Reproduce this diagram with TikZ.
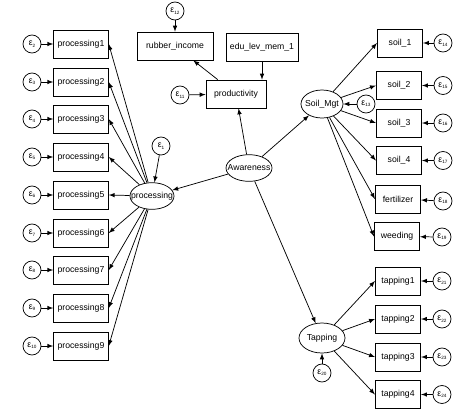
\documentclass[tikz,border=0pt]{standalone}
\usepackage{fontspec}
\setmainfont{Liberation Sans}
\usetikzlibrary{shapes.geometric}

\newcommand{\errlab}[1]{\textepsilon\raisebox{-1pt}{\fontsize{3.5}{4}\selectfont #1}}
\newcommand{\textepsilon}{ε}

\tikzset{
  obs/.style={draw, rectangle, minimum width=34pt, minimum height=21pt, inner xsep=3pt},
  lat/.style={draw, ellipse, inner sep=0pt},
  err/.style={draw, circle, minimum size=13.5pt, inner sep=0pt},
  path/.style={->, >=latex, line width=0.55pt}
}

\begin{document}
\begin{tikzpicture}[x=0.75pt, y=-0.75pt, font=\fontsize{6.5}{7.5}\selectfont, line width=0.55pt]
\useasboundingbox (0,0) rectangle (474,412);

% latent variables
\node[lat, minimum width=34.5pt, minimum height=20pt] (aware) at (249,168) {\makebox[0pt]{Awareness}};
\node[lat, minimum width=33pt, minimum height=20pt] (proc) at (152,196) {\makebox[0pt]{processing}};
\node[lat, minimum width=31.5pt, minimum height=21pt] (soil) at (322,104) {\makebox[0pt]{Soil\_Mgt}};
\node[lat, minimum width=34.5pt, minimum height=22.5pt] (tap) at (322,338) {\makebox[0pt]{Tapping}};

% top
\node[obs, minimum width=57pt] (rubber) at (175,46) {rubber\_income};
\node[obs, minimum width=53pt] (edu) at (262,47) {edu\_lev\_mem\_1};
\node[obs, minimum width=45pt] (prod) at (236,94) {productivity};
\node[err] (e12) at (175,11) {\errlab{12}};
\node[err] (e11) at (180,95) {\errlab{11}};
\node[err] (e1) at (161,146) {\errlab{1}};

% processing indicators
\node[obs] (p1) at (81,44) {processing1};
\node[obs] (p2) at (81,82) {processing2};
\node[obs] (p3) at (81,119) {processing3};
\node[obs] (p4) at (81,157) {processing4};
\node[obs] (p5) at (81,195) {processing5};
\node[obs] (p6) at (81,233) {processing6};
\node[obs] (p7) at (81,270) {processing7};
\node[obs] (p8) at (81,308) {processing8};
\node[obs] (p9) at (81,346) {processing9};
\node[err] (e2) at (32,44) {\errlab{2}};
\node[err] (e3) at (32,82) {\errlab{3}};
\node[err] (e4) at (32,119) {\errlab{4}};
\node[err] (e5) at (32,157) {\errlab{5}};
\node[err] (e6) at (32,195) {\errlab{6}};
\node[err] (e7) at (32,233) {\errlab{7}};
\node[err] (e8) at (32,270) {\errlab{8}};
\node[err] (e9) at (32,308) {\errlab{9}};
\node[err] (e10) at (32,346) {\errlab{10}};

% soil indicators
\node[obs] (s1) at (400,43) {soil\_1};
\node[obs] (s2) at (399,85.5) {soil\_2};
\node[obs] (s3) at (399,123) {soil\_3};
\node[obs] (s4) at (399,160.5) {soil\_4};
\node[obs] (fert) at (398,199) {fertilizer};
\node[obs] (weed) at (397,236.5) {weeding};
\node[err] (e13) at (366,104) {\errlab{13}};
\node[err] (e14) at (443,43) {\errlab{14}};
\node[err] (e15) at (443,85.5) {\errlab{15}};
\node[err] (e16) at (443,123) {\errlab{16}};
\node[err] (e17) at (443,160.5) {\errlab{17}};
\node[err] (e18) at (443,201) {\errlab{18}};
\node[err] (e19) at (442,237) {\errlab{19}};

% tapping indicators
\node[obs] (t1) at (398,281) {tapping1};
\node[obs] (t2) at (398,319) {tapping2};
\node[obs] (t3) at (398,357) {tapping3};
\node[obs] (t4) at (398,394.5) {tapping4};
\node[err] (e20) at (322,373) {\errlab{20}};
\node[err] (e21) at (442,281) {\errlab{21}};
\node[err] (e22) at (442,319) {\errlab{22}};
\node[err] (e23) at (442,357) {\errlab{23}};
\node[err] (e24) at (442,394.5) {\errlab{24}};

% structural paths
\draw[path] (aware) -- (prod);
\draw[path] (aware) -- (proc);
\draw[path] (aware) -- (soil);
\draw[path] (aware) -- (tap);
\draw[path] (prod) -- (rubber);
\draw[path] (edu) -- (edu |- prod.north);
\draw[path] (e12) -- (rubber);
\draw[path] (e11) -- (prod);
\draw[path] (e1) -- (proc);
\draw[path] (e13) -- (soil);
\draw[path] (e20) -- (tap);

% loadings
\draw[path] (proc) -- (p1.east);
\draw[path] (proc) -- (p2.east);
\draw[path] (proc) -- (p3.east);
\draw[path] (proc) -- (p4.east);
\draw[path] (proc) -- (p5.east);
\draw[path] (proc) -- (p6.east);
\draw[path] (proc) -- (p7.east);
\draw[path] (proc) -- (p8.east);
\draw[path] (proc) -- (p9.east);
\draw[path] (soil) -- (s1.west);
\draw[path] (soil) -- (s2.west);
\draw[path] (soil) -- (s3.west);
\draw[path] (soil) -- (s4.west);
\draw[path] (soil) -- (fert.west);
\draw[path] (soil) -- (weed.west);
\draw[path] (tap) -- (t1.west);
\draw[path] (tap) -- (t2.west);
\draw[path] (tap) -- (t3.west);
\draw[path] (tap) -- (t4.west);

% error terms
\draw[path] (e2) -- (p1);
\draw[path] (e3) -- (p2);
\draw[path] (e4) -- (p3);
\draw[path] (e5) -- (p4);
\draw[path] (e6) -- (p5);
\draw[path] (e7) -- (p6);
\draw[path] (e8) -- (p7);
\draw[path] (e9) -- (p8);
\draw[path] (e10) -- (p9);
\draw[path] (e14) -- (s1);
\draw[path] (e15) -- (s2);
\draw[path] (e16) -- (s3);
\draw[path] (e17) -- (s4);
\draw[path] (e18) -- (fert);
\draw[path] (e19) -- (weed);
\draw[path] (e21) -- (t1);
\draw[path] (e22) -- (t2);
\draw[path] (e23) -- (t3);
\draw[path] (e24) -- (t4);

\end{tikzpicture}
\end{document}
